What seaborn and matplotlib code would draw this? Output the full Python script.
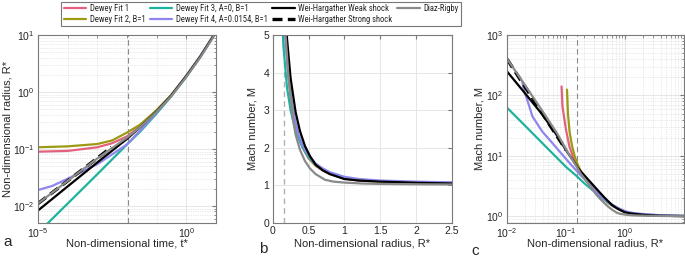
import numpy as np
import pandas as pd
import matplotlib
matplotlib.use("Agg")
import matplotlib.pyplot as plt
import seaborn as sns
from matplotlib import font_manager
from matplotlib.ticker import LogLocator, FixedLocator, NullFormatter, LogFormatterSciNotation
from matplotlib.lines import Line2D

sns.set_style("white")
plt.rcParams["font.family"] = ["Liberation Sans", "DejaVu Sans"]
plt.rcParams["mathtext.default"] = "regular"

# ---------------- data: panel a, radius vs time ----------------
t_fit1 = [1e-5, 1e-4, 1e-3, 3.16e-3, 1e-2, 0.027, 0.1, 0.3, 1, 3, 10]
R_fit1 = [0.0895, 0.0923, 0.107, 0.126, 0.166, 0.247, 0.47, 0.86, 1.92, 4.3, 11.5]
t_fit2 = [1e-5, 1e-4, 1e-3, 3.16e-3, 1e-2, 0.027, 0.1, 0.3, 1, 3, 10]
R_fit2 = [0.107, 0.111, 0.122, 0.141, 0.194, 0.265, 0.48, 0.87, 1.93, 4.3, 11.5]
t_fit3 = [2e-5, 1e-4, 1e-3, 1e-2, 0.03, 0.1, 0.3, 1, 3, 10]
R_fit3 = [0.0048, 0.011, 0.036, 0.12, 0.21, 0.42, 0.82, 1.85, 4.2, 11.2]
t_fit4 = [1e-5, 3e-5, 1e-4, 1e-3, 1e-2, 0.03, 0.1, 0.3, 1, 3, 10]
R_fit4 = [0.019, 0.0224, 0.030, 0.054, 0.12, 0.22, 0.44, 0.84, 1.92, 4.3, 11.5]
t_weak = [1e-5, 1e-4, 1e-3, 1e-2, 0.03, 0.1, 0.3, 1, 3, 10]
R_weak = [0.0083, 0.022, 0.058, 0.15, 0.25, 0.46, 0.85, 1.9, 4.2, 11.3]
t_strong = [1e-5, 1e-4, 1e-3, 3e-3]
R_strong = [0.011, 0.0275, 0.069, 0.107]
t_diaz = [1e-5, 1e-4, 1e-3, 1e-2, 0.03, 0.1, 0.3, 1, 3, 10]
R_diaz = [0.011, 0.0275, 0.068, 0.158, 0.25, 0.45, 0.83, 1.85, 4.1, 11.0]

# ---------------- data: panels b and c, Mach number vs radius ----------------
Rm_fit1 = [0.0841, 0.0871, 0.1, 0.115, 0.135, 0.16, 0.185, 0.22, 0.26, 0.3, 0.36, 0.42, 0.5, 0.6, 0.7, 0.8, 1.0, 1.2, 1.5, 2.0, 2.5, 4, 10]
M_fit1 = [141, 66, 27, 14, 9.0, 6.2, 4.9, 3.9, 3.2, 2.75, 2.3, 2.0, 1.72, 1.52, 1.4, 1.3, 1.18, 1.13, 1.1, 1.07, 1.06, 1.04, 1.02]
Rm_fit2 = [0.104, 0.108, 0.115, 0.126, 0.14, 0.158, 0.185, 0.22, 0.26, 0.3, 0.36, 0.42, 0.5, 0.6, 0.7, 0.8, 1.0, 1.2, 1.5, 2.0, 2.5, 4, 10]
M_fit2 = [125, 50, 25, 15, 10, 7.2, 5.2, 4.0, 3.25, 2.8, 2.33, 2.02, 1.74, 1.53, 1.41, 1.31, 1.19, 1.14, 1.1, 1.08, 1.06, 1.04, 1.02]
Rm_fit3 = [0.01, 0.02, 0.05, 0.1, 0.15, 0.2, 0.25, 0.3, 0.36, 0.42, 0.5, 0.6, 0.7, 0.8, 1.0, 1.2, 1.5, 2.0, 2.5, 4, 10]
M_fit3 = [63, 32, 13, 6.6, 4.7, 3.6, 3.0, 2.6, 2.25, 2.0, 1.75, 1.55, 1.42, 1.32, 1.2, 1.15, 1.11, 1.08, 1.07, 1.04, 1.02]
Rm_fit4 = [0.018, 0.0195, 0.022, 0.027, 0.04, 0.06, 0.08, 0.12, 0.17, 0.22, 0.28, 0.35, 0.42, 0.5, 0.6, 0.7, 0.8, 1.0, 1.2, 1.5, 2.0, 2.5, 4, 10]
M_fit4 = [175, 120, 85, 45, 25, 16, 11.5, 7.3, 5.0, 3.9, 3.0, 2.4, 2.05, 1.8, 1.58, 1.45, 1.35, 1.23, 1.17, 1.13, 1.1, 1.08, 1.05, 1.03]
Rm_weak = [0.01, 0.02, 0.04, 0.07, 0.1, 0.13, 0.16, 0.2, 0.25, 0.32, 0.38, 0.45, 0.52, 0.6, 0.7, 0.8, 1.0, 1.2, 1.5, 2.0, 2.5, 4, 10]
M_weak = [250, 110, 48, 22, 12.5, 8.6, 6.3, 4.9, 3.85, 2.95, 2.45, 2.05, 1.78, 1.55, 1.4, 1.3, 1.17, 1.13, 1.1, 1.07, 1.05, 1.03, 1.01]
Rm_strong = [0.01, 0.03, 0.06, 0.1]
M_strong = [400, 77, 27, 12.6]
Rm_diaz = [0.01, 0.02, 0.04, 0.07, 0.11, 0.15, 0.18, 0.22, 0.28, 0.32, 0.38, 0.45, 0.52, 0.6, 0.73, 0.85, 1.0, 1.25, 1.5, 2.0, 2.5, 4, 10]
M_diaz = [405, 150, 55, 24, 11, 6.8, 5.0, 3.9, 2.8, 2.35, 1.95, 1.65, 1.45, 1.3, 1.15, 1.1, 1.075, 1.05, 1.04, 1.03, 1.025, 1.02, 1.01]

t_ref = 0.0105
R_ref = 0.155

labels = ["Dewey Fit 1", "Dewey Fit 2, B=1", "Dewey Fit 3, A=0, B=1",
          "Dewey Fit 4, A=0.0154, B=1", "Wei-Hargather Weak shock",
          "Wei-Hargather Strong shock", "Diaz-Rigby"]
colors = ["#E4617E", "#9C9A12", "#1DB29E", "#8E86EE", "#000000", "#000000", "#8A8A8A"]
widths = [1.6, 1.6, 1.6, 1.6, 1.6, 2.4, 1.6]
styles = ["-", "-", "-", "-", "-", (0, (3, 1.6)), "-"]

series_a = [(t_fit1, R_fit1), (t_fit2, R_fit2), (t_fit3, R_fit3), (t_fit4, R_fit4),
            (t_weak, R_weak), (t_strong, R_strong), (t_diaz, R_diaz)]
series_m = [(Rm_fit1, M_fit1), (Rm_fit2, M_fit2), (Rm_fit3, M_fit3), (Rm_fit4, M_fit4),
            (Rm_weak, M_weak), (Rm_strong, M_strong), (Rm_diaz, M_diaz)]

W, H = 685, 258
fig = plt.figure(figsize=(W / 100, H / 100), dpi=100)
bot, hgt = (H - 223) / H, 188 / H
ax_a = fig.add_axes([38 / W, bot, 178 / W, hgt])
ax_b = fig.add_axes([272.7 / W, bot, 179 / W, hgt])
ax_c = fig.add_axes([507 / W, bot, 177 / W, hgt])

txt = "#262626"
spine_c = "#7a7a7a"
LAB = 8


def style_axes(ax):
    for s in ax.spines.values():
        s.set_color(spine_c)
        s.set_linewidth(0.8)
    ax.tick_params(which="both", direction="in", top=True, right=True,
                   colors=spine_c, labelcolor=txt, labelsize=7.5, pad=2.5)
    ax.tick_params(which="major", length=3)
    ax.tick_params(which="minor", length=1.8)
    ax.set_axisbelow(True)


def draw(ax, series):
    for (x, y), c, lw, ls in zip(series, colors, widths, styles):
        sns.lineplot(x=x, y=y, ax=ax, color=c, lw=lw, linestyle=ls,
                     estimator=None, sort=False, legend=False)


# panel a
ax_a.set_xscale("log")
ax_a.set_yscale("log")
draw(ax_a, series_a)
ax_a.axvline(t_ref, color="#8a8a8a", lw=0.8, ls=(0, (5, 3)), zorder=1)
ax_a.set_xlim(1e-5, 10)
ax_a.set_ylim(10 ** -2.3, 10)
ax_a.xaxis.set_major_locator(FixedLocator([1e-5, 1]))
ax_a.xaxis.set_major_formatter(LogFormatterSciNotation())
ax_a.xaxis.set_minor_locator(LogLocator(base=10, subs=(1.0,), numticks=30))
ax_a.xaxis.set_minor_formatter(NullFormatter())
ax_a.yaxis.set_major_locator(LogLocator(base=10, numticks=10))
ax_a.yaxis.set_minor_locator(LogLocator(base=10, subs=np.arange(2, 10), numticks=30))
ax_a.yaxis.set_minor_formatter(NullFormatter())
ax_a.set_xlabel("Non-dimensional time, t*", color=txt, fontsize=LAB)
ax_a.set_ylabel("Non-dimensional radius, R*", color=txt, fontsize=LAB)
ax_a.xaxis.set_label_coords(0.5, -0.085)
ax_a.yaxis.set_label_coords(-0.145, 0.5)

# panel b
draw(ax_b, series_m)
ax_b.axvline(R_ref, color="#b0b0b0", lw=1.0, ls=(0, (4, 3)), zorder=1)
ax_b.set_xlim(0, 2.5)
ax_b.set_ylim(0, 5)
ax_b.set_xticks([0, 0.5, 1, 1.5, 2, 2.5])
ax_b.set_xticklabels(["0", "0.5", "1", "1.5", "2", "2.5"])
ax_b.set_yticks([0, 1, 2, 3, 4, 5])
ax_b.set_xlabel("Non-dimensional radius, R*", color=txt, fontsize=LAB)
ax_b.set_ylabel("Mach number, M", color=txt, fontsize=LAB)
ax_b.xaxis.set_label_coords(0.5, -0.085)
ax_b.yaxis.set_label_coords(-0.085, 0.5)

# panel c
ax_c.set_xscale("log")
ax_c.set_yscale("log")
draw(ax_c, series_m)
ax_c.axvline(R_ref, color="#8a8a8a", lw=0.8, ls=(0, (5, 3)), zorder=1)
ax_c.set_xlim(1e-2, 10)
ax_c.set_ylim(0.78, 1000)
ax_c.xaxis.set_major_locator(FixedLocator([1e-2, 1e-1, 1]))
ax_c.xaxis.set_major_formatter(LogFormatterSciNotation())
ax_c.xaxis.set_minor_locator(LogLocator(base=10, subs=np.arange(2, 10), numticks=30))
ax_c.xaxis.set_minor_formatter(NullFormatter())
ax_c.yaxis.set_major_locator(FixedLocator([1, 10, 100, 1000]))
ax_c.yaxis.set_major_formatter(LogFormatterSciNotation())
ax_c.yaxis.set_minor_locator(LogLocator(base=10, subs=np.arange(2, 10), numticks=30))
ax_c.yaxis.set_minor_formatter(NullFormatter())
ax_c.set_xlabel("Non-dimensional radius, R*", color=txt, fontsize=LAB)
ax_c.set_ylabel("Mach number, M", color=txt, fontsize=LAB)
ax_c.xaxis.set_label_coords(0.5, -0.085)
ax_c.yaxis.set_label_coords(-0.125, 0.5)

for ax in (ax_a, ax_b, ax_c):
    style_axes(ax)
    ax.grid(which="major", color="#e2e2e2", lw=0.6, ls="-")
for ax in (ax_a, ax_c):
    ax.grid(which="minor", color="#d6d6d6", lw=0.5, ls=(0, (1, 1.5)))

# panel letters
fig.text(3 / W, 1 - 242 / H, "a", fontsize=11, color=txt, va="center", ha="left")
fig.text(259 / W, 1 - 249 / H, "b", fontsize=11, color=txt, va="center", ha="left")
fig.text(471 / W, 1 - 251 / H, "c", fontsize=11, color=txt, va="center", ha="left")

# legend: use a narrow face when one is installed
installed = {f.name for f in font_manager.fontManager.ttflist}
if "Liberation Sans Narrow" in installed:
    leg_font = {"family": "Liberation Sans Narrow", "size": 6.4}
    hl, cs = 2.5, 0.6
elif "Roboto Condensed" in installed:
    leg_font = {"family": "Roboto Condensed", "size": 6.2}
    hl, cs = 2.6, 0.55
else:
    leg_font = {"family": "Liberation Sans", "size": 5.3}
    hl, cs = 2.7, 0.55
handles = [Line2D([0], [0], color=c, lw=lw, ls=ls) for c, lw, ls in zip(colors, widths, styles)]
leg = fig.legend(handles, labels, ncol=4, loc="upper center",
                 bbox_to_anchor=(261 / W, 1 - 1.5 / H), prop=leg_font, frameon=True,
                 fancybox=False, handlelength=hl, handletextpad=0.4,
                 columnspacing=cs, borderpad=0.28, labelspacing=0.2,
                 borderaxespad=0.0)
leg.get_frame().set_edgecolor("#555555")
leg.get_frame().set_linewidth(0.8)
for tx in leg.get_texts():
    tx.set_color(txt)

fig.savefig("out.png", dpi=100)
